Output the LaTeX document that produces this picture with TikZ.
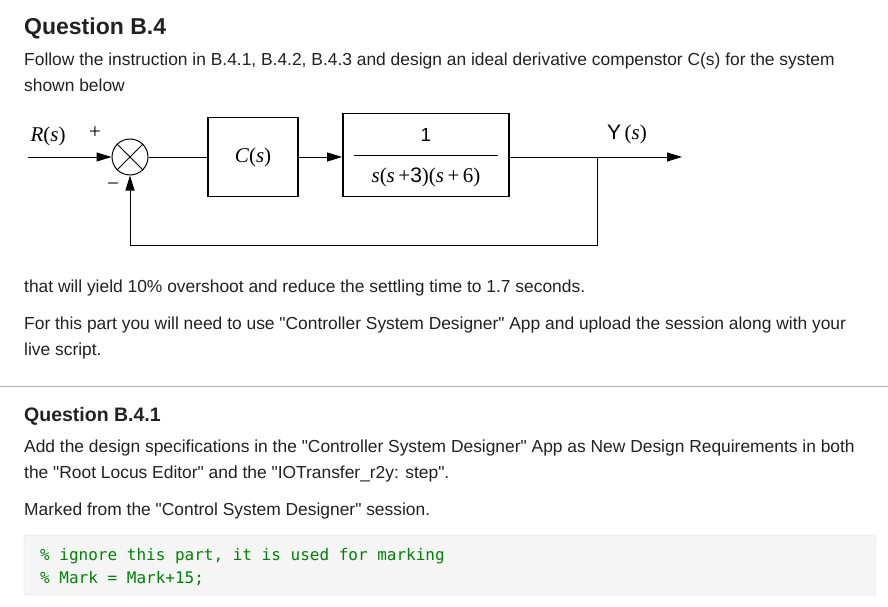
\documentclass[tikz,border=0pt]{standalone}
\usepackage{fontspec}
\setmainfont{Liberation Sans}
\newfontfamily\codefont{DejaVu Sans Mono}
\newfontfamily\ser{Liberation Serif}
\usetikzlibrary{arrows.meta}
\definecolor{txt}{HTML}{212121}
\definecolor{codegreen}{HTML}{028009}
\newcommand{\vi}[1]{\textit{#1}}
\newcommand{\q}{\XeTeXglyph\XeTeXcharglyph"22\relax}
\begin{document}
\begin{tikzpicture}[x=1pt,y=-1pt,
  p/.style={anchor=base west,inner sep=0,font=\fontsize{17.4}{19}\selectfont,text=txt},
  h/.style={anchor=base west,inner sep=0,font=\bfseries,text=txt},
  blk/.style={draw,line width=1.8pt,inner sep=0},
  ln/.style={line width=1pt},
  arr/.style={ln,-{Triangle[length=15pt,width=9pt]}},
  m/.style={inner sep=0,font=\ser\fontsize{21}{23}\selectfont}]
\useasboundingbox (0,0) rectangle (888,607);
\node[h,font=\bfseries\fontsize{23}{26}\selectfont] (t1) at (24,35) {Question B.4};
\node[p] (l1) at (24,66) {Follow the instruction in B.4.1, B.4.2, B.4.3 and design an ideal derivative compenstor C(s) for the system};
\node[p] (l2) at (24,92) {shown below};
% diagram
\node[draw,circle,minimum size=36pt,inner sep=0,ln] (sum) at (130,157) {};
\draw[ln] (sum.north west)--(sum.south east) (sum.north east)--(sum.south west);
\node[blk,minimum width=90pt,minimum height=79pt] (C) at (253,157) {};
\node[m] (Ct) at (253,157) {\vi{C}(\vi{s})};
\node[blk,minimum width=166pt,minimum height=83pt] (G) at (426,155) {};
\node[m,font=\fontsize{19}{22}\selectfont] (Gn) at (426,135) {1};
\node[m] (Gd) at (426,177) {\vi{s}(\vi{s}\,+{\fontspec{Liberation Sans}3})(\vi{s}\,+\,6)};
\coordinate (fa) at (354,155);
\coordinate (fb) at (498,155);
\draw[ln] (fa) -- (fb);
\coordinate (in) at (28,157);
\coordinate (out) at (682,157);
\coordinate (tap) at (597,157);
\coordinate (b1) at (597,245);
\coordinate (b2) at (130,245);
\draw[arr] (in) -- (sum.west);
\draw[ln] (sum.east) -- (C.west);
\draw[arr] (C.east |- sum) -- (G.west |- sum);
\draw[arr] (G.east |- sum) -- (out);
\draw[arr] (tap) -- (b1) -- (b2) -- (sum.south);
\node[m] (R) at (48,136) {\vi{R}(\vi{s})};
\node[m] (pl) at (95,133) {+};
\node[m] (mi) at (113,187) {\symbol{"2212}};
\node[m] (Y) at (627,134) {{\fontspec{Liberation Sans}Y}\,(\vi{s})};
\node[p] (l3) at (24,292) {that will yield 10\% overshoot and reduce the settling time to 1.7 seconds.};
\node[p] (l4) at (24,329) {For this part you will need to use \q Controller System Designer\q\ App and upload the session along with your};
\node[p] (l5) at (24,355) {live script.};
\draw[gray!60,line width=1pt] (0,386) -- (888,386);
\node[h,font=\bfseries\fontsize{19.5}{22}\selectfont] (t2) at (24,421) {Question B.4.1};
\node[p] (l6) at (24,452) {Add the design specifications in the \q Controller System Designer\q\ App as New Design Requirements in both};
\node[p] (l7) at (24,478) {the \q Root Locus Editor\q\ and the \q IOTransfer\_r2y: step\q.};
\node[p] (l8) at (24,515) {Marked from the \q Control System Designer\q\ session.};
\draw[fill=black!4,draw=black!15,rounded corners=2pt] (24,535) rectangle (876,595);
\node[anchor=base west,inner sep=0,font=\codefont\fontsize{16}{17}\selectfont,text=codegreen] (c1) at (40,560) {\% ignore this part, it is used for marking};
\node[anchor=base west,inner sep=0,font=\codefont\fontsize{16}{17}\selectfont,text=codegreen] (c2) at (40,583) {\% Mark = Mark+15;};
\end{tikzpicture}
\end{document}
